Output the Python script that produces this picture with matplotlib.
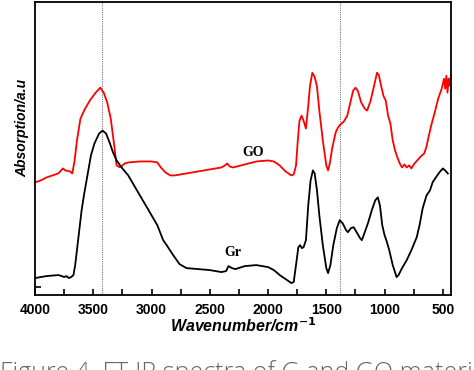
import matplotlib.pyplot as plt

# GO spectrum (red), wavenumber vs absorption (arbitrary units)
go_wn = [4000, 3950, 3900, 3850, 3800, 3760, 3740, 3700, 3680, 3660, 3640, 3610,
         3570, 3530, 3480, 3440, 3410, 3380, 3350, 3320, 3300, 3270, 3230, 3200,
         3100, 3000, 2950, 2920, 2880, 2840, 2800, 2700, 2600, 2500, 2400, 2370,
         2350, 2330, 2300, 2200, 2100, 2000, 1950, 1900, 1850, 1800, 1780, 1760,
         1745, 1730, 1712, 1690, 1675, 1655, 1640, 1620, 1600, 1580, 1560, 1530,
         1500, 1485, 1470, 1450, 1420, 1400, 1380, 1350, 1320, 1300, 1270, 1250,
         1230, 1200, 1170, 1150, 1120, 1090, 1065, 1050, 1030, 1010, 990, 970,
         950, 930, 910, 890, 870, 850, 830, 810, 790, 770, 750, 720, 690, 660,
         640, 620, 600, 570, 540, 510, 490, 480, 470, 460, 450, 440, 430]
go_px = [182, 180, 177, 175, 173, 168, 170, 171, 173, 160, 140, 118,
         108, 100, 92, 87, 92, 102, 118, 145, 165, 167, 163, 162,
         161, 161, 162, 167, 172, 175, 175, 173, 171, 169, 167, 165,
         163, 166, 167, 164, 161, 160, 161, 165, 171, 175, 174, 165,
         140, 120, 115, 122, 128, 105, 85, 72, 76, 86, 110, 140,
         165, 170, 163, 148, 132, 127, 124, 121, 115, 105, 90, 87,
         90, 102, 108, 110, 100, 85, 72, 74, 85, 95, 100, 115,
         123, 140, 150, 157, 163, 167, 164, 167, 165, 168, 164, 160, 156, 153,
         146, 135, 125, 112, 98, 88, 78, 88, 75, 92, 78, 85, 74]

# Gr spectrum (black)
gr_wn = [4000, 3900, 3800, 3770, 3750, 3730, 3710, 3690, 3670, 3655, 3640, 3620,
         3600, 3580, 3550, 3520, 3490, 3450, 3420, 3390, 3360, 3330, 3300, 3250,
         3200, 3150, 3100, 3050, 3000, 2950, 2900, 2870, 2820, 2760, 2700, 2600,
         2500, 2400, 2360, 2340, 2310, 2280, 2200, 2100, 2000, 1950, 1900, 1850,
         1800, 1780, 1760, 1740, 1725, 1710, 1695, 1675, 1655, 1635, 1615, 1600,
         1580, 1560, 1530, 1500, 1485, 1465, 1440, 1410, 1385, 1360, 1330, 1315,
         1290, 1265, 1240, 1210, 1195, 1170, 1140, 1110, 1080, 1058, 1040, 1020,
         1000, 985, 960, 930, 897, 880, 850, 810, 770, 724, 700, 673, 640, 610,
         588, 560, 530, 500, 480, 457]
gr_px = [278, 276, 275, 276, 277, 276, 278, 277, 275, 265, 250, 230,
         210, 195, 175, 155, 143, 133, 130, 133, 142, 152, 160, 168,
         175, 185, 195, 205, 215, 225, 240, 245, 254, 264, 268, 269,
         270, 272, 271, 266, 268, 269, 266, 265, 267, 270, 275, 279,
         283, 282, 265, 247, 245, 248, 247, 240, 205, 180, 170, 173,
         190, 215, 245, 268, 273, 265, 245, 228, 220, 223, 230, 232,
         228, 227, 232, 238, 240, 232, 222, 210, 200, 197, 205, 225,
         235, 240, 250, 265, 277, 275, 268, 260, 250, 237, 225, 208, 195, 190,
         182, 177, 172, 168, 170, 173]

go_y = [295 - v for v in go_px]
gr_y = [295 - v for v in gr_px]

marks = [3425, 1385]

fig = plt.figure(figsize=(4.74, 3.70), dpi=100)
ax = fig.add_axes([35 / 474, 1 - 295 / 370, 416 / 474, 293 / 370])

for m in marks:
    ax.axvline(m, color='#777777', lw=0.8, ls=(0, (1, 1)))

ax.plot(go_wn, go_y, color='#ff0000', lw=1.3)
ax.plot(gr_wn, gr_y, color='black', lw=1.3)

ax.text(2130, 143, 'GO', family='Liberation Serif', weight='bold', fontsize=10,
        ha='center', va='center')
ax.text(2300, 43, 'Gr', family='Liberation Serif', weight='bold', fontsize=10,
        ha='center', va='center')

ax.set_xlim(4000, 430)
ax.set_ylim(0, 294)
ax.set_xticks([4000, 3500, 3000, 2500, 2000, 1500, 1000, 500])
ax.set_xticks([3750, 3250, 2750, 2250, 1750, 1250, 750], minor=True)
ax.set_yticks([8])
ax.set_yticklabels([])
ax.tick_params(axis='both', which='both', direction='in', length=4, width=1.2)
ax.tick_params(axis='x', pad=6)
for lab in ax.get_xticklabels():
    lab.set_fontweight('bold')
    lab.set_fontsize(10)
    lab.set_family('Liberation Sans')
for s in ax.spines.values():
    s.set_linewidth(1.3)

fig.text(243 / 474, 1 - 332 / 370, r'Wavenumber/cm$^{\mathbf{-1}}$', ha='center',
         va='baseline', fontsize=11.5, weight='bold', style='italic',
         family='Liberation Sans')
fig.text(22 / 474, 1 - 128 / 370, 'Absorption/a.u', rotation=90, ha='center',
         va='center', fontsize=10, weight='bold', style='italic',
         family='Liberation Sans')

# figure caption, cut off by the bottom edge as in the source image
fig.text(0.0, 1 - 360 / 370, 'Figure 4. FT-IR spectra of G and GO material',
         ha='left', va='top', fontsize=18, color='#666666', family='Open Sans',
         weight='light')

fig.savefig('out.png', dpi=100)
